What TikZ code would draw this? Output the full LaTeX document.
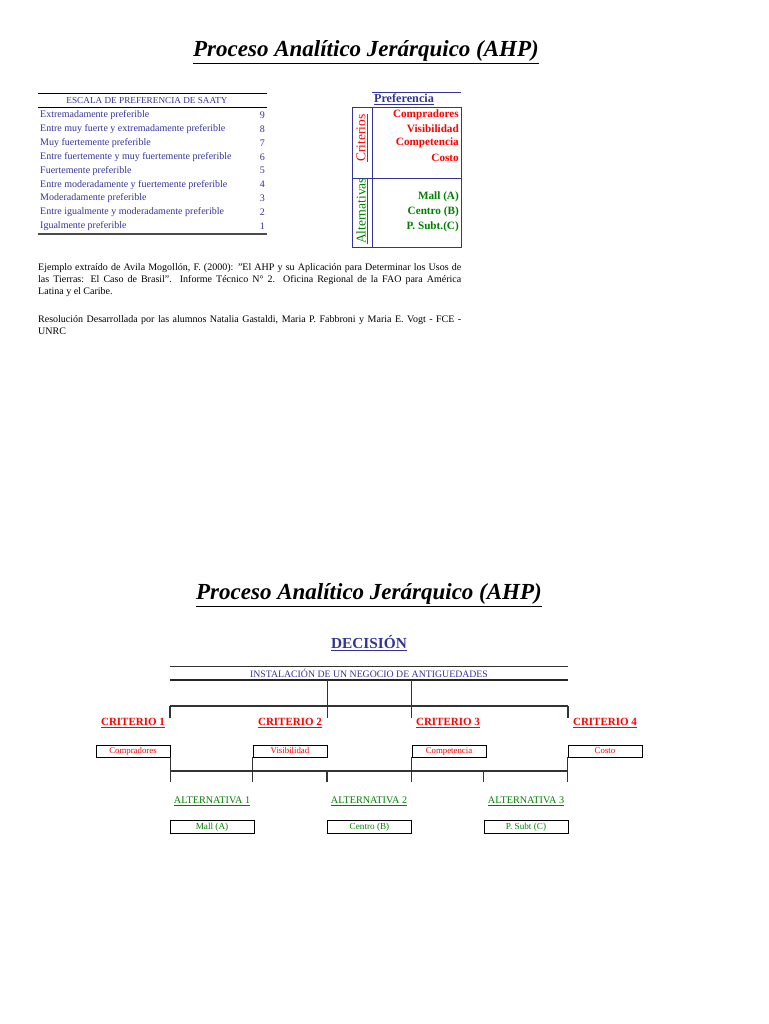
\documentclass[tikz,border=0pt]{standalone}
\usepackage{fontspec}
\setmainfont{Liberation Serif}
\usepackage{xcolor}
\usepackage{tikz}
\definecolor{saatyblue}{RGB}{51,51,153}
\definecolor{critred}{RGB}{255,0,0}
\definecolor{altgreen}{RGB}{0,128,0}

\begin{document}
\begin{tikzpicture}[x=1pt, y=-1pt,
    titulo/.style={inner sep=0pt, font=\fontsize{23}{26}\selectfont\bfseries\itshape},
    saaty/.style={anchor=west, inner sep=0pt, text=saatyblue, font=\fontsize{10}{11}\selectfont},
    pref/.style={anchor=east, inner sep=0pt, font=\fontsize{11.2}{13}\selectfont\bfseries},
    eje/.style={rotate=90, inner sep=0pt, font=\fontsize{13.5}{15}\selectfont},
    nota/.style={anchor=north west, inner sep=0pt, text width=423pt, align=justify, font=\fontsize{10}{12}\selectfont},
    crit/.style={inner sep=0pt, text=critred, font=\fontsize{11}{13}\selectfont\bfseries},
    critbox/.style={rectangle, draw, line width=0.9pt, minimum width=74pt, minimum height=12pt, inner sep=0pt, text height=7.8pt, text depth=2pt, text=critred, font=\fontsize{8.8}{10}\selectfont},
    alt/.style={inner sep=0pt, text=altgreen, font=\fontsize{10.2}{12}\selectfont},
    altbox/.style={rectangle, draw, line width=0.9pt, minimum width=84pt, minimum height=13pt, inner sep=0pt, text height=8pt, text depth=2pt, text=altgreen, font=\fontsize{9.2}{10}\selectfont},
    rama/.style={line width=1.2pt, draw=black!80}]
    \useasboundingbox (0,0) rectangle (768,1024);

    \node[titulo] (titulo1) at (366,52) {\underline{Proceso Analítico Jerárquico (AHP)}};

    \draw[line width=0.8pt] (38,93) -- (267,93);
    \node[saaty, anchor=center, font=\fontsize{9.2}{10}\selectfont] (escala) at (147,100.5) {ESCALA DE PREFERENCIA DE SAATY};
    \draw[line width=0.8pt] (38,107) -- (267,107);
    \foreach \txt/\val [count=\i] in {Extremadamente preferible/9,
        Entre muy fuerte y extremadamente preferible/8,
        Muy fuertemente preferible/7,
        Entre fuertemente y muy fuertemente preferible/6,
        Fuertemente preferible/5,
        Entre moderadamente y fuertemente preferible/4,
        Moderadamente preferible/3,
        Entre igualmente y moderadamente preferible/2,
        Igualmente preferible/1} {
      \node[saaty] (fila\i) at (40,{101.5+13.85*\i}) {\txt};
      \node[saaty, anchor=east] (valor\i) at (265,{101.5+13.85*\i}) {\val};
    }
    \draw[line width=1.8pt, black!70] (38,234) -- (267,234);

    \draw[saatyblue, line width=0.8pt] (372,92) -- (461,92);
    \node[pref, anchor=center, text=saatyblue, font=\fontsize{12.2}{14}\selectfont\bfseries] (preferencia) at (404,99.5) {\underline{Preferencia}};
    \draw[saatyblue, line width=0.8pt] (352,107) rectangle (461,247);
    \draw[saatyblue, line width=0.8pt] (372,107) -- (372,247);
    \draw[saatyblue, line width=0.8pt] (352,178) -- (461,178);
    \node[eje, text=critred] (criterios) at (362,138) {\underline{Criterios}};
    \node[eje, text=altgreen] (alternativas) at (362,211) {\underline{Alternativas}};
    \node[pref, text=critred] (p1) at (459,114.5) {Compradores};
    \node[pref, text=critred] (p2) at (459,129) {Visibilidad};
    \node[pref, text=critred] (p3) at (459,143) {Competencia};
    \node[pref, text=critred] (p4) at (459,157.5) {Costo};
    \node[pref, text=altgreen] (q1) at (459,196.5) {Mall (A)};
    \node[pref, text=altgreen] (q2) at (459,211.5) {Centro (B)};
    \node[pref, text=altgreen] (q3) at (459,226.5) {P. Subt.(C)};

    \node[nota] (fuente) at (38,263) {Ejemplo extraído de Avila Mogollón, F. (2000): "El AHP y su Aplicación para Determinar los Usos de\linebreak las Tierras: El Caso de Brasil". Informe Técnico N° 2. Oficina Regional de la FAO para América\linebreak Latina y el Caribe.};
    \node[nota] (autores) at (38,315) {Resolución Desarrollada por las alumnos Natalia Gastaldi, Maria P. Fabbroni y Maria E. Vogt - FCE -\linebreak UNRC};

    \node[titulo] (titulo2) at (369,595) {\underline{Proceso Analítico Jerárquico (AHP)}};
    \node[inner sep=0pt, text=saatyblue, font=\fontsize{15.3}{17}\selectfont\bfseries] (decision) at (369,643) {\underline{DECISIÓN}};

    \node[inner sep=0pt, minimum width=398pt, minimum height=13pt, text=saatyblue, font=\fontsize{9.8}{11}\selectfont] (inst) at (369,673.5) {INSTALACIÓN DE UN NEGOCIO DE ANTIGUEDADES};
    \draw[line width=1pt, black!80] (inst.north west) -- (inst.north east);
    \draw[line width=2.2pt, black!85] (inst.south west) -- (inst.south east);

    \node[crit] (c1) at (133,723) {\underline{CRITERIO 1}};
    \node[crit] (c2) at (290,723) {\underline{CRITERIO 2}};
    \node[crit] (c3) at (448,723) {\underline{CRITERIO 3}};
    \node[crit] (c4) at (605,723) {\underline{CRITERIO 4}};

    \node[critbox] (b1) at (133,751) {Compradores};
    \node[critbox] (b2) at (290,751) {Visibilidad};
    \node[critbox] (b3) at (449,751) {Competencia};
    \node[critbox] (b4) at (605,751) {Costo};

    \coordinate (h1) at (170,706);
    \coordinate (h2) at (568,706);
    \draw[rama] (h1) -- (h2);
    \draw[rama] (h1) -- ++(0,12);
    \draw[rama] (h2) -- ++(0,12);
    \draw[rama] (inst.south -| b2.east) -- ++(0,38);
    \draw[rama] (inst.south -| b3.west) -- ++(0,38);

    \node[alt] (t1) at (212,801) {\underline{ALTERNATIVA 1}};
    \node[alt] (t2) at (369,801) {\underline{ALTERNATIVA 2}};
    \node[alt] (t3) at (526,801) {\underline{ALTERNATIVA 3}};

    \node[altbox] (a1) at (212,826.5) {Mall (A)};
    \node[altbox] (a2) at (369.5,826.5) {Centro (B)};
    \node[altbox] (a3) at (526,826.5) {P. Subt (C)};

    \coordinate (g1) at (170,771);
    \coordinate (g2) at (568,771);
    \draw[rama] (g1) -- (g2);
    \draw[rama] (b1.south east) -- ++(0,25);
    \draw[rama] (b2.south west) -- ++(0,25);
    \draw[rama] (b3.south west) -- ++(0,25);
    \draw[rama] (b4.south west) -- ++(0,25);
    \draw[rama] (g1 -| a2.west) -- ++(0,11);
    \draw[rama] (g1 -| a3.west) -- ++(0,11);
\end{tikzpicture}
\end{document}
